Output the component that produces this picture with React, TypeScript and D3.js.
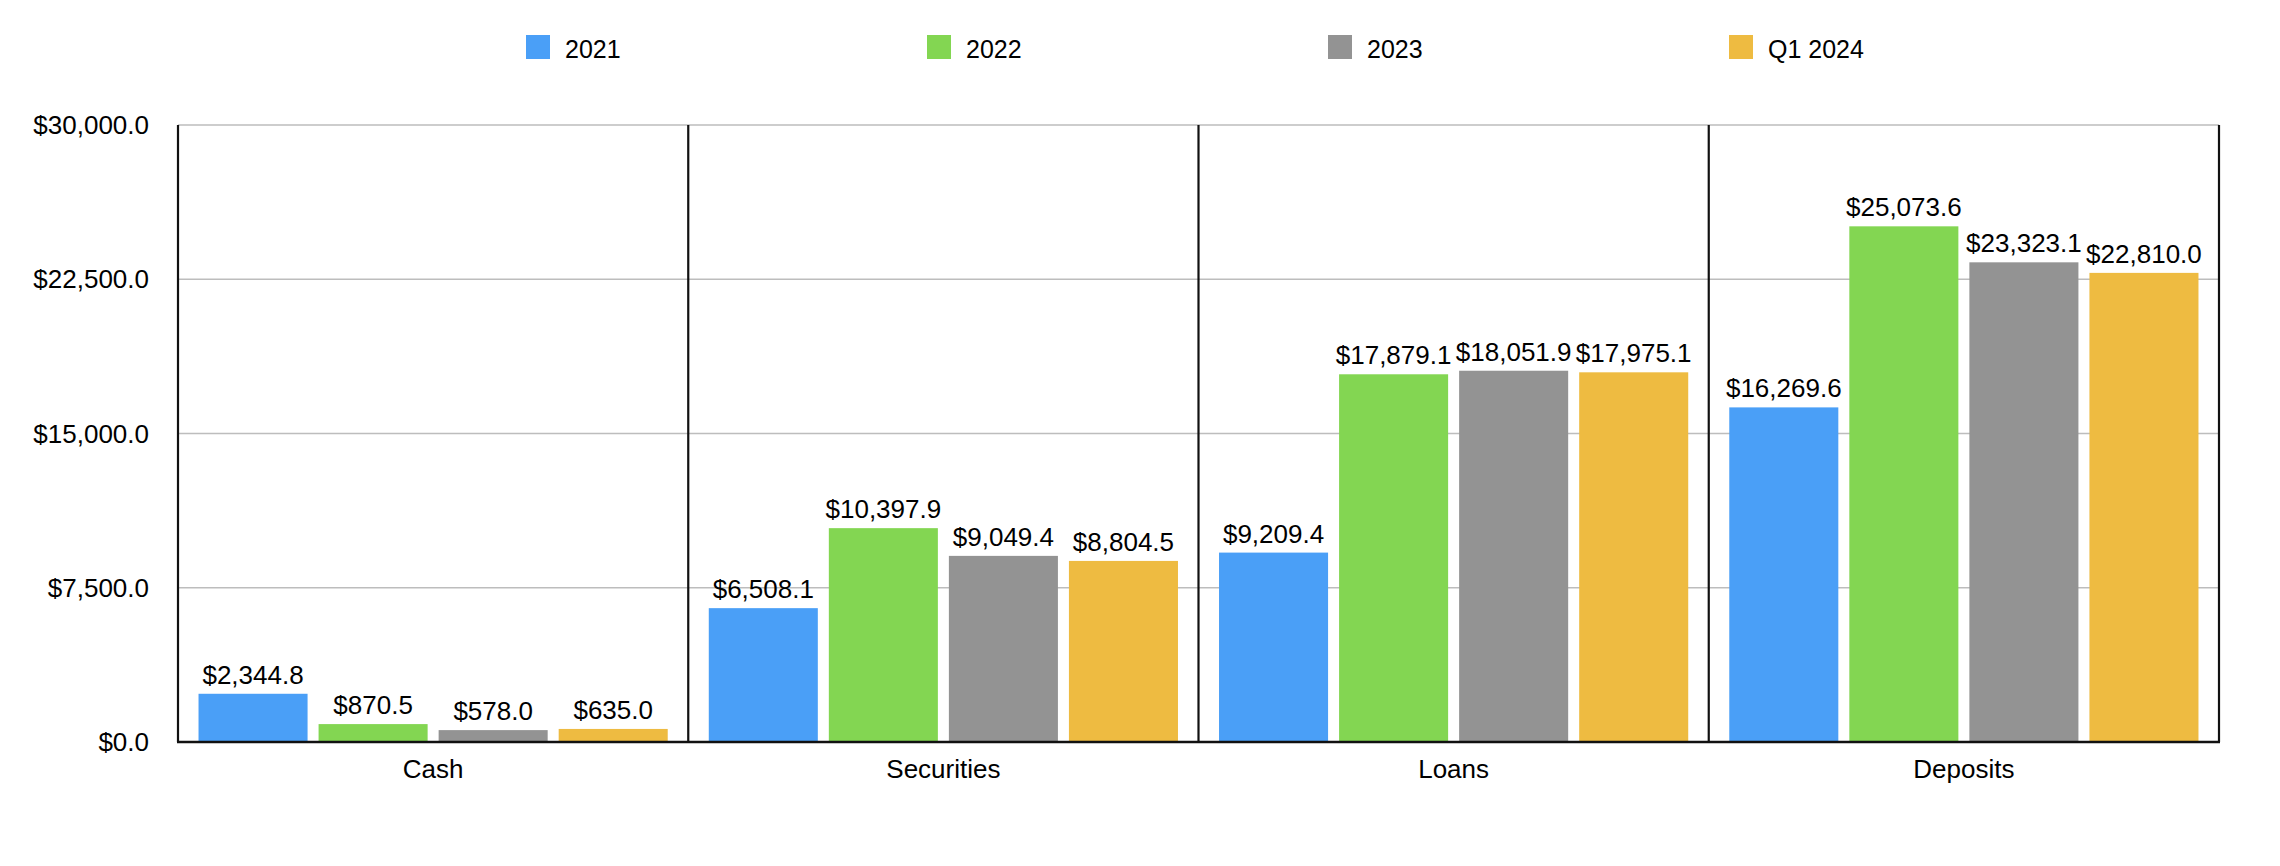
import React from "react";
import * as d3 from "d3";

const categories = ["Cash", "Securities", "Loans", "Deposits"];
const seriesNames = ["2021", "2022", "2023", "Q1 2024"];
const values2021 = [2344.8, 6508.1, 9209.4, 16269.6];
const values2022 = [870.5, 10397.9, 17879.1, 25073.6];
const values2023 = [578.0, 9049.4, 18051.9, 23323.1];
const valuesQ12024 = [635.0, 8804.5, 17975.1, 22810.0];
const seriesColors = ["#4a9ff7", "#83d652", "#939393", "#eebb41"];
const yTicks = [0, 7500, 15000, 22500, 30000];

const W = 2280;
const H = 866;
const left = 178;
const right = 2219;
const top = 125;
const bottom = 742;
const FONT = "'Liberation Sans', Arial, Helvetica, sans-serif";
const FS = 26;
const LFS = 25;

export default function App() {
  const seriesValues = [values2021, values2022, values2023, valuesQ12024];
  const x0 = d3.scaleBand<string>().domain(categories).range([left, right]).padding(0);
  const x1 = d3
    .scaleBand<string>()
    .domain(seriesNames)
    .range([0, x0.bandwidth()])
    .paddingInner(0.0917)
    .paddingOuter(0.171);
  const y = d3.scaleLinear().domain([0, 30000]).range([bottom, top]);
  const fmt = (v: number) => "$" + d3.format(",.1f")(v);

  const legendStart = 526;
  const legendStep = 401;

  return (
    <div style={{ position: "absolute", left: 0, top: 0 }}>
      <svg width={W} height={H} style={{ display: "block", background: "#fff" }} fontFamily={FONT}>
        <rect x={0} y={0} width={W} height={H} fill="#fff" />
        {seriesNames.map((s, i) => (
          <g key={s} transform={`translate(${legendStart + i * legendStep},35)`}>
            <rect x={0} y={0} width={24} height={24} fill={seriesColors[i]} />
            <text x={39} y={23} fontSize={LFS} fill="#000">
              {s}
            </text>
          </g>
        ))}
        {yTicks.map((t) => (
          <line
            key={"g" + t}
            x1={left}
            x2={right}
            y1={y(t)}
            y2={y(t)}
            stroke="#bdbdbd"
            strokeWidth={1.5}
          />
        ))}
        {yTicks.map((t) => (
          <text
            key={"t" + t}
            x={149}
            y={y(t)}
            textAnchor="end"
            dominantBaseline="central"
            fontSize={FS}
            fill="#000"
          >
            {fmt(t)}
          </text>
        ))}
        {categories.map((c, ci) => (
          <g key={c} transform={`translate(${x0(c)},0)`}>
            {seriesNames.map((s, si) => {
              const v = seriesValues[si][ci];
              const bx = x1(s)!;
              const bw = x1.bandwidth();
              return (
                <g key={s}>
                  <rect x={bx} y={y(v)} width={bw} height={bottom - y(v)} fill={seriesColors[si]} />
                  <text
                    x={bx + bw / 2}
                    y={y(v) - 10}
                    textAnchor="middle"
                    fontSize={FS}
                    fill="#000"
                  >
                    {fmt(v)}
                  </text>
                </g>
              );
            })}
            <text
              x={x0.bandwidth() / 2}
              y={778}
              textAnchor="middle"
              fontSize={FS}
              fill="#000"
            >
              {c}
            </text>
          </g>
        ))}
        {[...categories.map((c) => x0(c)!), right].map((xv, i) => (
          <line key={"v" + i} x1={xv} x2={xv} y1={top} y2={bottom} stroke="#111" strokeWidth={2.2} />
        ))}
        <line x1={left - 1} x2={right + 1} y1={bottom} y2={bottom} stroke="#111" strokeWidth={2.5} />
      </svg>
    </div>
  );
}
